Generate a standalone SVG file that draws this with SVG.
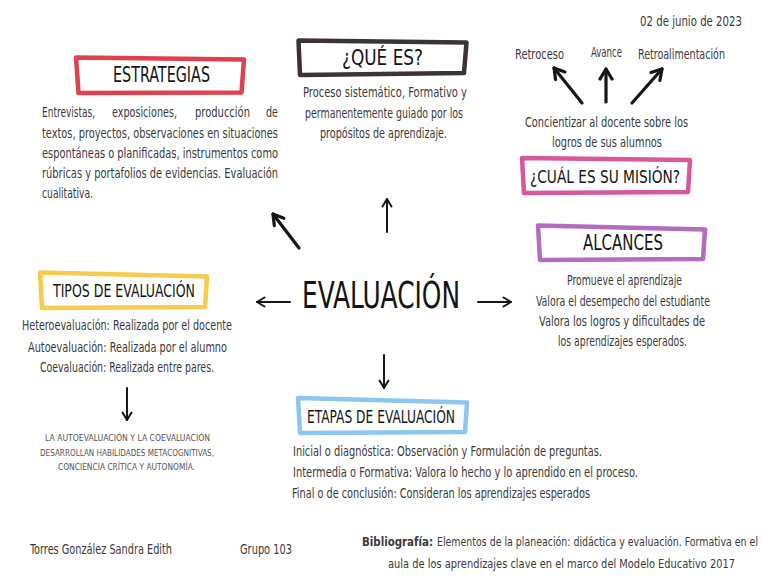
<svg xmlns="http://www.w3.org/2000/svg" width="768" height="576" viewBox="0 0 768 576">
<style>
.t{font-family:"Liberation Sans Narrow","DejaVu Sans Condensed","Liberation Sans",sans-serif;fill:#3a3a3a;font-size:13.5px}
.h{font-family:"Liberation Sans Narrow","DejaVu Sans Condensed","Liberation Sans",sans-serif;fill:#141414;}
.s{font-size:9.5px;fill:#555}
.f{font-size:12px}
.box{fill:#fff;stroke-width:4.5;stroke-linejoin:round;stroke-linecap:round}
.ar{stroke:#161616;stroke-width:2;fill:none;stroke-linecap:round}
.arb{stroke:#161616;stroke-width:3.2;fill:none;stroke-linecap:round}
</style>
<defs>
<marker id="m" viewBox="0 0 12 12" refX="10.5" refY="6" markerWidth="12" markerHeight="12" markerUnits="userSpaceOnUse" orient="auto">
<path d="M3,1.5 L10.5,6 L3,10.5" fill="none" stroke="#161616" stroke-width="2" stroke-linecap="round" stroke-linejoin="round"/>
</marker>
<marker id="mb" viewBox="0 0 16 16" refX="14" refY="8" markerWidth="16" markerHeight="16" markerUnits="userSpaceOnUse" orient="auto">
<path d="M4,2 L14,8 L4,14" fill="none" stroke="#161616" stroke-width="3.2" stroke-linecap="round" stroke-linejoin="round"/>
</marker>
</defs>
<rect width="768" height="576" fill="#fff"/>

<text class="t" x="640" y="26" textLength="102" lengthAdjust="spacingAndGlyphs">02 de junio de 2023</text>

<g id="estrategias">
<path class="box" stroke="#e2404f" d="M76,57.5 L244,59.5 L241.5,92.5 L78.5,93 Z"/>
<text class="h" x="113" y="82" font-size="21" textLength="97" lengthAdjust="spacingAndGlyphs">ESTRATEGIAS</text>
<text class="t" y="117"><tspan x="42" textLength="53" lengthAdjust="spacingAndGlyphs">Entrevistas,</tspan><tspan x="112" textLength="65" lengthAdjust="spacingAndGlyphs">exposiciones,</tspan><tspan x="195" textLength="55" lengthAdjust="spacingAndGlyphs">producción</tspan><tspan x="266" textLength="12" lengthAdjust="spacingAndGlyphs">de</tspan></text>
<text class="t" x="42" y="138" textLength="236" lengthAdjust="spacingAndGlyphs">textos, proyectos, observaciones en situaciones</text>
<text class="t" x="42" y="158" textLength="236" lengthAdjust="spacingAndGlyphs">espontáneas o planificadas, instrumentos como</text>
<text class="t" x="42" y="178" textLength="236" lengthAdjust="spacingAndGlyphs">rúbricas y portafolios de evidencias. Evaluación</text>
<text class="t" x="42" y="198" textLength="51" lengthAdjust="spacingAndGlyphs">cualitativa.</text>
</g>

<g id="que-es">
<path class="box" stroke="#3d3336" d="M298.5,40.5 L466.5,42.5 L464,73 L300,75 Z"/>
<text class="h" x="342" y="65" font-size="21" textLength="81" lengthAdjust="spacingAndGlyphs">¿QUÉ ES?</text>
<text class="t" x="303" y="97" textLength="164" lengthAdjust="spacingAndGlyphs">Proceso sistemático, Formativo y</text>
<text class="t" x="305" y="118" textLength="158" lengthAdjust="spacingAndGlyphs">permanentemente guiado por los</text>
<text class="t" x="320" y="138" textLength="127" lengthAdjust="spacingAndGlyphs">propósitos de aprendizaje.</text>
</g>

<g id="mision">
<text class="t" x="515" y="59" textLength="49" lengthAdjust="spacingAndGlyphs">Retroceso</text>
<text class="t" x="591" y="57" textLength="31" lengthAdjust="spacingAndGlyphs">Avance</text>
<text class="t" x="638" y="59" textLength="87" lengthAdjust="spacingAndGlyphs">Retroalimentación</text>
<text class="t" x="525" y="127" textLength="163" lengthAdjust="spacingAndGlyphs">Concientizar al docente sobre los</text>
<text class="t" x="552" y="147" textLength="110" lengthAdjust="spacingAndGlyphs">logros de sus alumnos</text>
<path class="box" stroke="#d9589a" d="M522,158 L690,160 L688,192 L524,193 Z"/>
<text class="h" x="530" y="183" font-size="18" textLength="150" lengthAdjust="spacingAndGlyphs">¿CUÁL ES SU MISIÓN?</text>
</g>

<g id="alcances">
<path class="box" stroke="#b46cbf" d="M538,225.5 L705,229.5 L703,259 L540,260 Z"/>
<text class="h" x="583" y="250" font-size="21" textLength="80" lengthAdjust="spacingAndGlyphs">ALCANCES</text>
<text class="t" x="567" y="285" textLength="115" lengthAdjust="spacingAndGlyphs">Promueve el aprendizaje</text>
<text class="t" x="536" y="306" textLength="174" lengthAdjust="spacingAndGlyphs">Valora el desempecho del estudiante</text>
<text class="t" x="539" y="326" textLength="166" lengthAdjust="spacingAndGlyphs">Valora los logros y dificultades de</text>
<text class="t" x="558" y="346" textLength="129" lengthAdjust="spacingAndGlyphs">los aprendizajes esperados.</text>
</g>

<g id="tipos">
<path class="box" stroke="#f7cb4d" d="M40,272.5 L207,276.5 L205,307 L42,308 Z"/>
<text class="h" x="53" y="297" font-size="17" textLength="142" lengthAdjust="spacingAndGlyphs">TIPOS DE EVALUACIÓN</text>
<text class="t" x="22" y="330" textLength="210" lengthAdjust="spacingAndGlyphs">Heteroevaluación: Realizada por el docente</text>
<text class="t" x="28" y="352" textLength="199" lengthAdjust="spacingAndGlyphs">Autoevaluación: Realizada por el alumno</text>
<text class="t" x="40" y="372" textLength="174" lengthAdjust="spacingAndGlyphs">Coevaluación: Realizada entre pares.</text>
</g>

<g id="nota">
<text class="t s" x="45" y="441" textLength="165" lengthAdjust="spacingAndGlyphs">LA AUTOEVALUACIÓN Y LA COEVALUACIÓN</text>
<text class="t s" x="40" y="456" textLength="174" lengthAdjust="spacingAndGlyphs">DESARROLLAN HABILIDADES METACOGNITIVAS,</text>
<text class="t s" x="58" y="470" textLength="137" lengthAdjust="spacingAndGlyphs">CONCIENCIA CRÍTICA Y AUTONOMÍA.</text>
</g>

<g id="evaluacion">
<text class="h" x="302" y="308" font-size="38" textLength="158" lengthAdjust="spacingAndGlyphs">EVALUACIÓN</text>
</g>

<g id="etapas">
<path class="box" stroke="#8dc6ee" d="M298,398 L467,402.5 L465,432 L300,433 Z"/>
<text class="h" x="307" y="423" font-size="17" textLength="148" lengthAdjust="spacingAndGlyphs">ETAPAS DE EVALUACIÓN</text>
<text class="t" x="293" y="456" textLength="309" lengthAdjust="spacingAndGlyphs">Inicial o diagnóstica: Observación y Formulación de preguntas.</text>
<text class="t" x="293" y="477" textLength="345" lengthAdjust="spacingAndGlyphs">Intermedia o Formativa: Valora lo hecho y lo aprendido en el proceso.</text>
<text class="t" x="292" y="498" textLength="298" lengthAdjust="spacingAndGlyphs">Final o de conclusión: Consideran los aprendizajes esperados</text>
</g>

<g id="pie">
<text class="t" x="30" y="554" textLength="142" lengthAdjust="spacingAndGlyphs">Torres González Sandra Edith</text>
<text class="t" x="240" y="554" textLength="52" lengthAdjust="spacingAndGlyphs">Grupo 103</text>
<text class="t f" x="362" y="546" textLength="71" lengthAdjust="spacingAndGlyphs" font-weight="bold" fill="#141414">Bibliografía:</text>
<text class="t f" x="437" y="546" textLength="321" lengthAdjust="spacingAndGlyphs">Elementos de la planeación: didáctica y evaluación. Formativa en el</text>
<text class="t f" x="388" y="568" textLength="347" lengthAdjust="spacingAndGlyphs">aula de los aprendizajes clave en el marco del Modelo Educativo 2017</text>
</g>

<g id="conectores">
<line class="arb" x1="582" y1="103" x2="554" y2="68" marker-end="url(#mb)"/>
<line class="arb" x1="606" y1="102" x2="606" y2="69" marker-end="url(#mb)"/>
<line class="arb" x1="632" y1="103" x2="662" y2="69" marker-end="url(#mb)"/>
<line class="arb" x1="299" y1="248" x2="273" y2="214" marker-end="url(#mb)"/>
<line class="ar" x1="387" y1="232" x2="387" y2="199" marker-end="url(#m)"/>
<line class="ar" x1="290" y1="302" x2="257" y2="302" marker-end="url(#m)"/>
<line class="ar" x1="478" y1="302" x2="511" y2="302" marker-end="url(#m)"/>
<line class="ar" x1="384" y1="355" x2="384" y2="388" marker-end="url(#m)"/>
<line class="ar" x1="127" y1="388" x2="127" y2="420" marker-end="url(#m)"/>
</g>
</svg>
